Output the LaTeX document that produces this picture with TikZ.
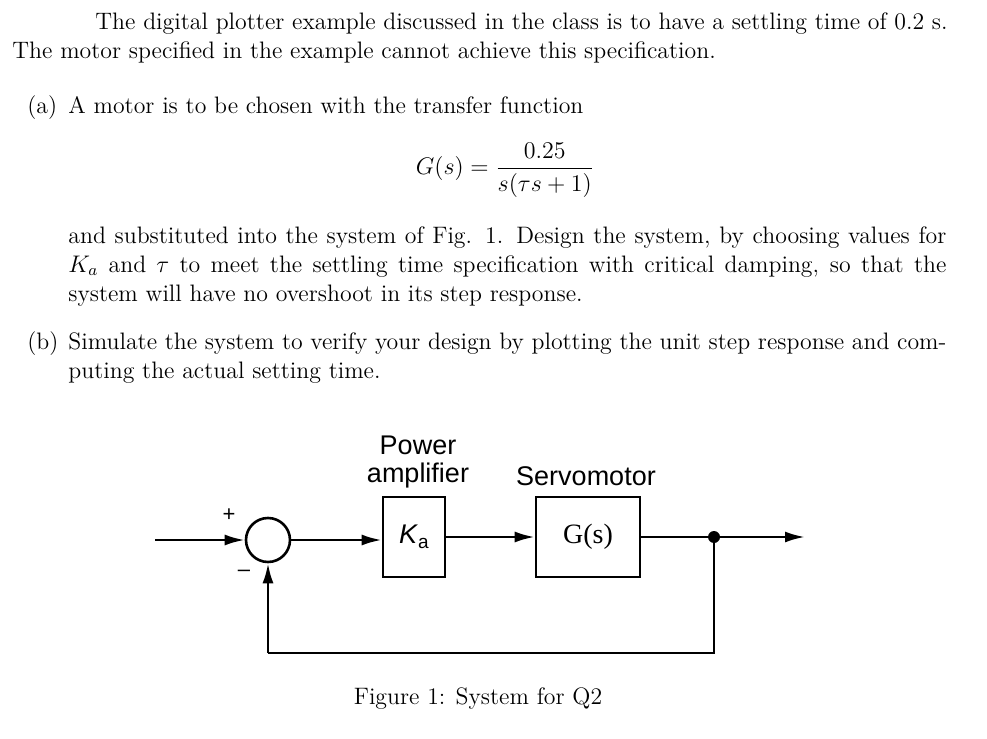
\documentclass[tikz,border=0pt]{standalone}
\usepackage{fontspec}
\usepackage{amsmath}
\newfontfamily\dsans{Liberation Sans}
\newfontfamily\dserif{Liberation Serif}
\usetikzlibrary{arrows.meta}
\begin{document}
\begin{tikzpicture}[x=0.5pt,y=-0.5pt,
  txt/.style={anchor=base west,inner sep=0pt,font=\fontsize{11.9}{14.6}\selectfont},
  par/.style={txt,text width=439pt,align=justify},
  blk/.style={draw,line width=1.3pt,minimum width=#1},
  lbl/.style={font=\dsans\fontsize{13.5}{14}\selectfont,inner sep=0pt},
  sig/.style={line width=1.3pt},
  arr/.style={sig,-{Latex[length=10pt,width=5.5pt]}}]
\useasboundingbox (0,0) rectangle (987,739);
\node[txt] (l1) at (95,29) {The digital plotter example discussed in the class is to have a settling time of 0.2 s.};
\node[txt] (l2) at (12,59) {The motor specified in the example cannot achieve this specification.};
\node[txt] (a) at (27,113) {(a)};
\node[txt] (at) at (68,113) {A motor is to be chosen with the transfer function};
\node[inner sep=0pt,font=\fontsize{11.9}{15}\selectfont] (eq) at (505,170) {$\displaystyle G(s)=\frac{0.25}{s(\tau s+1)}$};
\node[par,anchor=north west] (p) at (68,226) {and substituted into the system of Fig. 1. Design the system, by choosing values for\linebreak $K_a$ and $\tau$ to meet the settling time specification with critical damping, so that the system will have no overshoot in its step response.};
\node[txt] (b) at (27,349) {(b)};
\node[par,anchor=north west] (bt) at (68,332) {Simulate the system to verify your design by plotting the unit step response and com\-puting the actual setting time.};
% diagram
\coordinate (in) at (155,540);
\node[draw,circle,line width=1.3pt,minimum size=22pt,inner sep=0pt] (sum) at (268,540) {};
\node[blk=31pt,minimum height=40pt,font=\dsans\fontsize{13.5}{14}\selectfont] (ka) at (414,537) {\textit{K}\raisebox{-0.35ex}{\fontsize{9.5}{10}\selectfont a}};
\node[blk=52pt,minimum height=40pt,font=\dserif\fontsize{14}{15}\selectfont] (g) at (588,537) {G(s)};
\coordinate (dot) at (714,537);
\coordinate (out) at (805,537);
\coordinate (br) at (714,653);
\coordinate (bl) at (268,653);
\draw[arr] (in) -- (sum);
\draw[arr] (sum.east) -- (ka.west|-sum.east);
\draw[arr] (ka) -- (g);
\draw[arr] (g) -- (out);
\fill (dot) circle (3pt);
\draw[sig] (dot) -- (br) -- (bl);
\draw[arr] (bl) -- (sum.south);
\node[lbl,font=\dsans\fontsize{11}{12}\selectfont] (plus) at (229,515) {+};
\node[lbl,font=\dsans\fontsize{11}{12}\selectfont] (minus) at (244,573) {\textendash};
\node[lbl,align=center] (pa) at (418,462) {Power\\amplifier};
\node[lbl] (sm) at (586,476) {Servomotor};
\node[txt,anchor=base] (cap) at (478,704) {Figure 1: System for Q2};
\end{tikzpicture}
\end{document}
